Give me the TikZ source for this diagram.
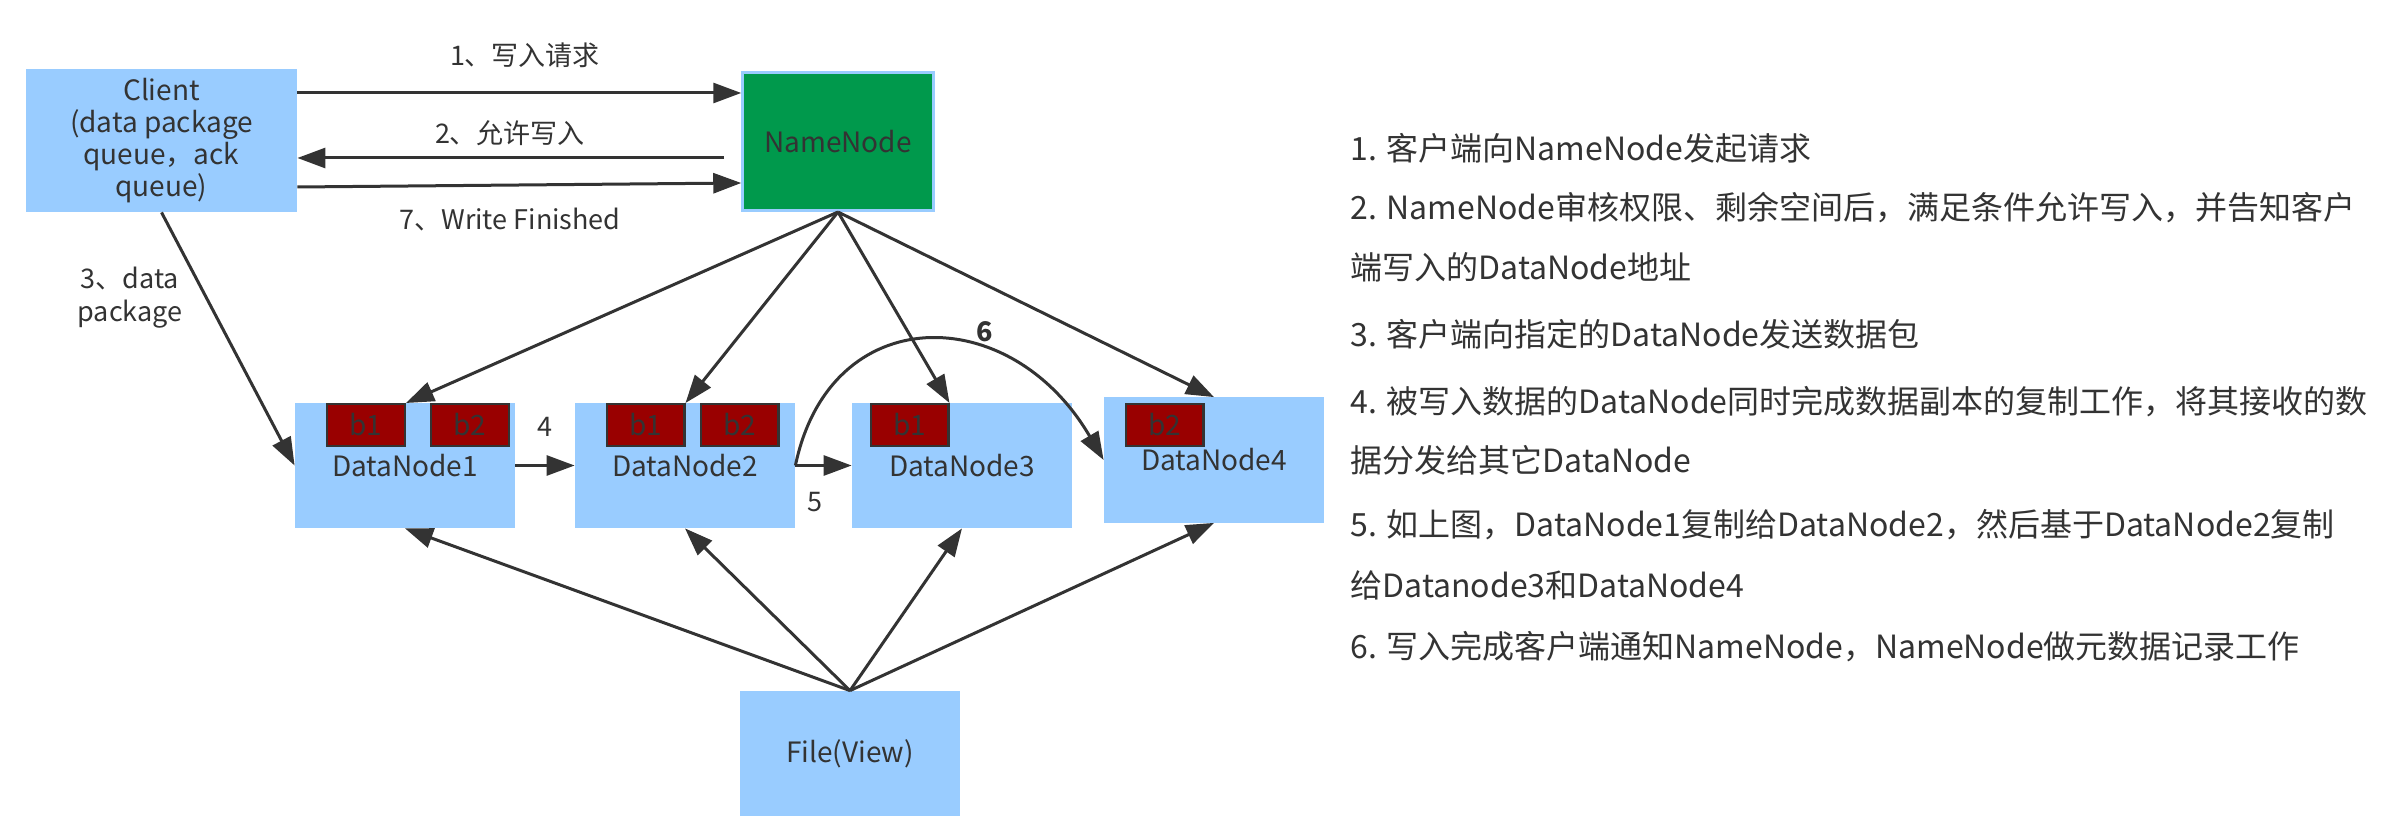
\documentclass[tikz,border=0pt]{standalone}
\usepackage{fontspec}
\setmainfont{Noto Sans CJK SC}
\usetikzlibrary{arrows.meta}
\definecolor{lb}{HTML}{99CCFF}
\definecolor{nng}{HTML}{00994C}
\definecolor{blk}{HTML}{990000}
\definecolor{ink}{HTML}{333333}
\begin{document}
\begin{tikzpicture}[x=0.5pt,y=-0.5pt,
  box/.style={fill=lb, draw=none, minimum width=110pt, minimum height=62.5pt, inner sep=0pt, text=ink, font=\fontsize{14}{16}\selectfont},
  blkbox/.style={fill=blk, draw=ink, line width=1.2pt, minimum width=38.8pt, minimum height=20.8pt, inner sep=0pt, text=ink, font=\fontsize{14}{16}\selectfont},
  arr/.style={draw=ink, line width=1.5pt, -{Triangle[length=14pt,width=10pt]}},
  lbl/.style={text=ink, font=\fontsize{13.5}{16.5}\selectfont, inner sep=0pt, align=center},
  desc/.style={text=ink, font=\fontsize{16}{20}\selectfont, anchor=west, inner sep=0pt}]
\useasboundingbox (0,0) rectangle (2397,828);

% main nodes
\node[box, minimum width=135.5pt, minimum height=71.5pt, align=center] (client) at (161.5,140.5) {Client\\(data package\\queue，ack\\queue)};
\node[fill=nng, draw=lb, line width=1.5pt, minimum width=95.25pt, minimum height=69pt, inner sep=0pt, text=ink, font=\fontsize{14}{16}\selectfont] (nn) at (838,141.5) {NameNode};
\node[box] (dn1) at (405,465.5) {DataNode1};
\node[box] (dn2) at (685,465.5) {DataNode2};
\node[box] (dn3) at (962,465.5) {DataNode3};
\node[box] (dn4) at (1214,460) {DataNode4};
\node[box] (file) at (850,753.5) {File(View)};

% blocks
\node[blkbox] (dn1b1) at (366,425) {b1};
\node[blkbox] (dn1b2) at (470,425) {b2};
\node[blkbox] (dn2b1) at (645.5,425) {b1};
\node[blkbox] (dn2b2) at (739.5,425) {b2};
\node[blkbox] (dn3b1) at (909.5,425) {b1};
\node[blkbox] (dn4b2) at (1164.5,425) {b2};

% labels
\node[lbl] (l1) at (525,55) {1、写入请求};
\node[lbl] (l2) at (510,133) {2、允许写入};
\node[lbl] (l7) at (510,220) {7、Write Finished};
\node[lbl] (l3) at (130,298) {3、data\\package};
\node[lbl] (l4) at (545,427) {4};
\node[lbl] (l5) at (815,502) {5};
\node[lbl, font=\fontsize{13.5}{16.5}\selectfont\bfseries] (l6) at (985,332) {6};

% helper coordinates
\coordinate (y1) at (0,93);
\coordinate (y2) at (0,158);
\coordinate (y7a) at (0,187);
\coordinate (y7b) at (0,183);
\coordinate (n2) at (724,158);

% connectors
\draw[arr] (client.east |- y1) -- (nn.west |- y1);
\draw[arr] (n2) -- (client.east |- y2);
\draw[arr] (client.east |- y7a) -- (nn.west |- y7b);
\draw[arr] (client.south) -- (dn1.west);
\draw[arr] (nn.south) -- (dn1b1.north east);
\draw[arr] (nn.south) -- (dn2b1.north east);
\draw[arr] (nn.south) -- (dn3b1.north east);
\draw[arr] (nn.south) -- (dn4.north);
\draw[arr] (dn1.east) -- (dn2.west);
\draw[arr] (dn2.east) -- (dn3.west);
\draw[arr] (dn2.east) .. controls (830,300) and (1010,300) .. (dn4.west);
\draw[arr] (file.north) -- (dn1.south);
\draw[arr] (file.north) -- (dn2.south);
\draw[arr] (file.north) -- (dn3.south);
\draw[arr] (file.north) -- (dn4.south);

% description
\node[desc] (d1) at (1350,148) {1. 客户端向NameNode发起请求};
\node[desc] (d2a) at (1350,208) {2. NameNode审核权限、剩余空间后，满足条件允许写入，并告知客户};
\node[desc] (d2b) at (1350,267) {端写入的DataNode地址};
\node[desc] (d3) at (1350,334) {3. 客户端向指定的DataNode发送数据包};
\node[desc] (d4a) at (1350,402) {4. 被写入数据的DataNode同时完成数据副本的复制工作，将其接收的数};
\node[desc] (d4b) at (1350,460) {据分发给其它DataNode};
\node[desc] (d5a) at (1350,525) {5. 如上图，DataNode1复制给DataNode2，然后基于DataNode2复制};
\node[desc] (d5b) at (1350,585) {给Datanode3和DataNode4};
\node[desc] (d6) at (1350,647) {6. 写入完成客户端通知NameNode，NameNode做元数据记录工作};
\end{tikzpicture}
\end{document}
